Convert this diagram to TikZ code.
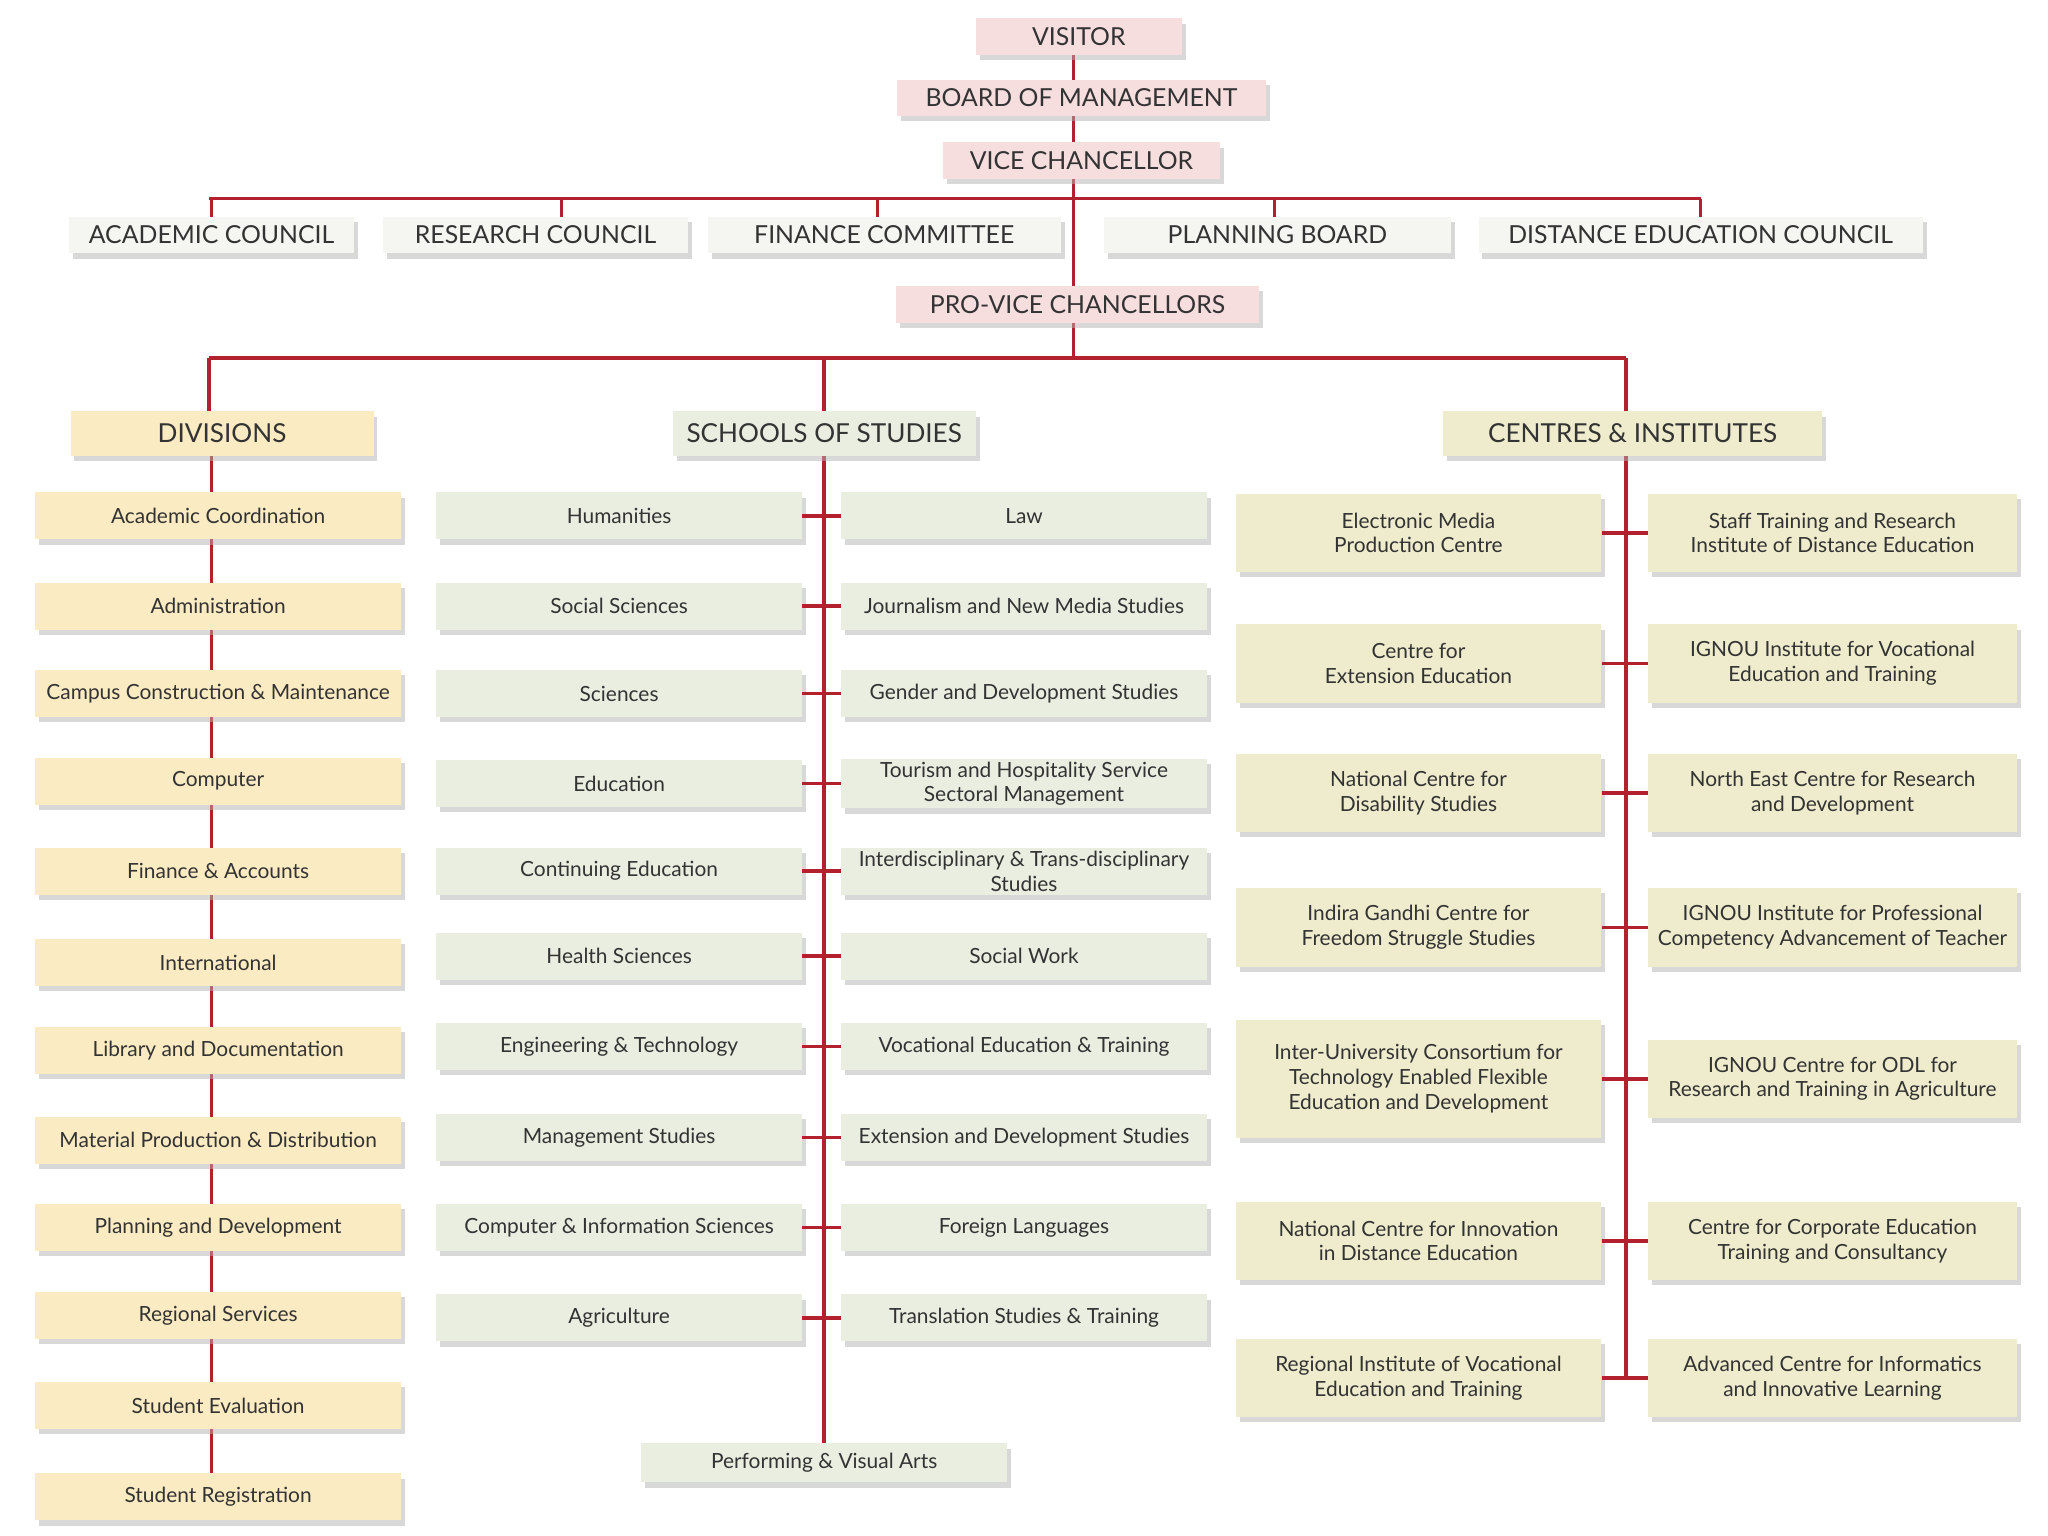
\documentclass[tikz,border=0pt]{standalone}
\usepackage{fontspec}
\setmainfont{Lato}
\usetikzlibrary{shadows}
\definecolor{lred}{HTML}{B3202E}
\definecolor{pinkf}{HTML}{F6DEDF}
\definecolor{greyf}{HTML}{F5F5F2}
\definecolor{divf}{HTML}{FBEBC3}
\definecolor{schf}{HTML}{E9EEE1}
\definecolor{cenf}{HTML}{EFEBCD}
\tikzset{
 base/.style={draw=none,inner sep=1pt,align=center,text=black!80,drop shadow={shadow xshift=1.5pt,shadow yshift=-2pt,fill=black!30,opacity=0.5}},
 top/.style={base,fill=pinkf,minimum height=14pt,font=\fontsize{9.5}{11}\selectfont},
 coun/.style={base,fill=greyf,minimum height=14pt,font=\fontsize{9.5}{11}\selectfont},
 head/.style={base,minimum height=17pt,font=\fontsize{10}{12}\selectfont},
 divb/.style={base,fill=divf,minimum width=140pt,minimum height=18pt,font=\fontsize{8}{9.5}\selectfont},
 schb/.style={base,fill=schf,minimum width=140pt,minimum height=18pt,font=\fontsize{8}{9.5}\selectfont},
 cenb/.style={base,fill=cenf,minimum width=140pt,minimum height=30pt,font=\fontsize{8}{9.5}\selectfont},
 ln/.style={draw=lred,line width=1.3pt}
}
\begin{document}
\begin{tikzpicture}[x=0.5pt,y=-0.5pt]
\useasboundingbox[fill=white] (0,0) rectangle (1568,1176);
\coordinate (h1l) at (160,152); \coordinate (h1r) at (1302,152);
\coordinate (h2l) at (160,274); \coordinate (h2r) at (1245,274);
\coordinate (hc) at (822,152); \coordinate (hc2) at (822,274);
\draw[ln] (h1l)--(h1r);
\draw[ln] (h2l)--(h2r);
\foreach \x in {162,430,672,976,1302} \draw[ln] (\x,152)--(\x,166);
\draw[ln] (822,20)--(hc2);
\foreach \x in {160,631,1245} \draw[ln] (\x,274)--(\x,316);
\draw[ln] (162,340)--(162,1140);
\draw[ln] (631,340)--(631,1110);
\draw[ln] (1245,340)--(1245,1055);

\node[top,minimum width=79pt] (vis) at (826,28) {VISITOR};
\node[top,minimum width=141pt] (bom) at (828,75) {BOARD OF MANAGEMENT};
\node[top,minimum width=106pt] (vc) at (828,123) {VICE CHANCELLOR};
\node[coun,minimum width=109pt] (ac) at (162,180) {ACADEMIC COUNCIL};
\node[coun,minimum width=117pt] (rc) at (410,180) {RESEARCH COUNCIL};
\node[coun,minimum width=135pt] (fc) at (677,180) {FINANCE COMMITTEE};
\node[coun,minimum width=133pt] (pb) at (978,180) {PLANNING BOARD};
\node[coun,minimum width=170pt] (dec) at (1302,180) {DISTANCE EDUCATION COUNCIL};
\node[top,minimum width=139pt] (pvc) at (825,233) {PRO-VICE CHANCELLORS};
\node[head,fill=divf,minimum width=116pt] (div) at (170,332) {DIVISIONS};
\node[head,fill=schf,minimum width=116pt] (sch) at (631,332) {SCHOOLS OF STUDIES};
\node[head,fill=cenf,minimum width=145pt] (cen) at (1250,332) {CENTRES \& INSTITUTES};

\foreach \t [count=\i] in {Academic Coordination,Administration,Campus Construction \& Maintenance,Computer,Finance \& Accounts,International,Library and Documentation,Material Production \& Distribution,Planning and Development,Regional Services,Student Evaluation,Student Registration}{
  \pgfmathsetmacro\yy{{0,395,464,531,598,667,737,804,873,940,1007,1076,1146}[\i]}
  \node[divb] (d\i) at (167,\yy) {\t};
}

\foreach \l/\r [count=\i] in {Humanities/Law,Social Sciences/Journalism and New Media Studies,Sciences/Gender and Development Studies,Education/{Tourism and Hospitality Service\\Sectoral Management},Continuing Education/{Interdisciplinary \& Trans-disciplinary\\Studies},Health Sciences/Social Work,Engineering \& Technology/Vocational Education \& Training,Management Studies/Extension and Development Studies,Computer \& Information Sciences/Foreign Languages,Agriculture/Translation Studies \& Training}{
  \pgfmathsetmacro\yy{{0,395,464,531,600,667,732,801,871,940,1009}[\i]}
  \node[schb] (sl\i) at (474,\yy) {\l};
  \node[schb,minimum height=18pt] (sr\i) at (784,\yy) {\r};
  \draw[ln] (sl\i.east)--(sr\i.west);
}
\node[schb,minimum height=15pt] (pva) at (631,1120) {Performing \& Visual Arts};

\foreach \l/\r/\h [count=\i] in {{Electronic Media\\Production Centre}/{Staff Training and Research\\Institute of Distance Education}/30,{Centre for\\Extension Education}/{IGNOU Institute for Vocational\\Education and Training}/30,{National Centre for\\Disability Studies}/{North East Centre for Research\\and Development}/30,{Indira Gandhi Centre for\\Freedom Struggle Studies}/{IGNOU Institute for Professional\\Competency Advancement of Teacher}/30,{Inter-University Consortium for\\Technology Enabled Flexible\\Education and Development}/{IGNOU Centre for ODL for\\Research and Training in Agriculture}/45,{National Centre for Innovation\\in Distance Education}/{Centre for Corporate Education\\Training and Consultancy}/30,{Regional Institute of Vocational\\Education and Training}/{Advanced Centre for Informatics\\and Innovative Learning}/30}{
  \pgfmathsetmacro\yy{{0,408,508,607,710,826,950,1055}[\i]}
  \node[cenb,minimum height=\h pt] (cl\i) at (1086,\yy) {\l};
  \node[cenb,minimum width=141pt] (cr\i) at (1403,\yy) {\r};
  \draw[ln] (cl\i.east)--(cr\i.west);
}
\end{tikzpicture}
\end{document}
